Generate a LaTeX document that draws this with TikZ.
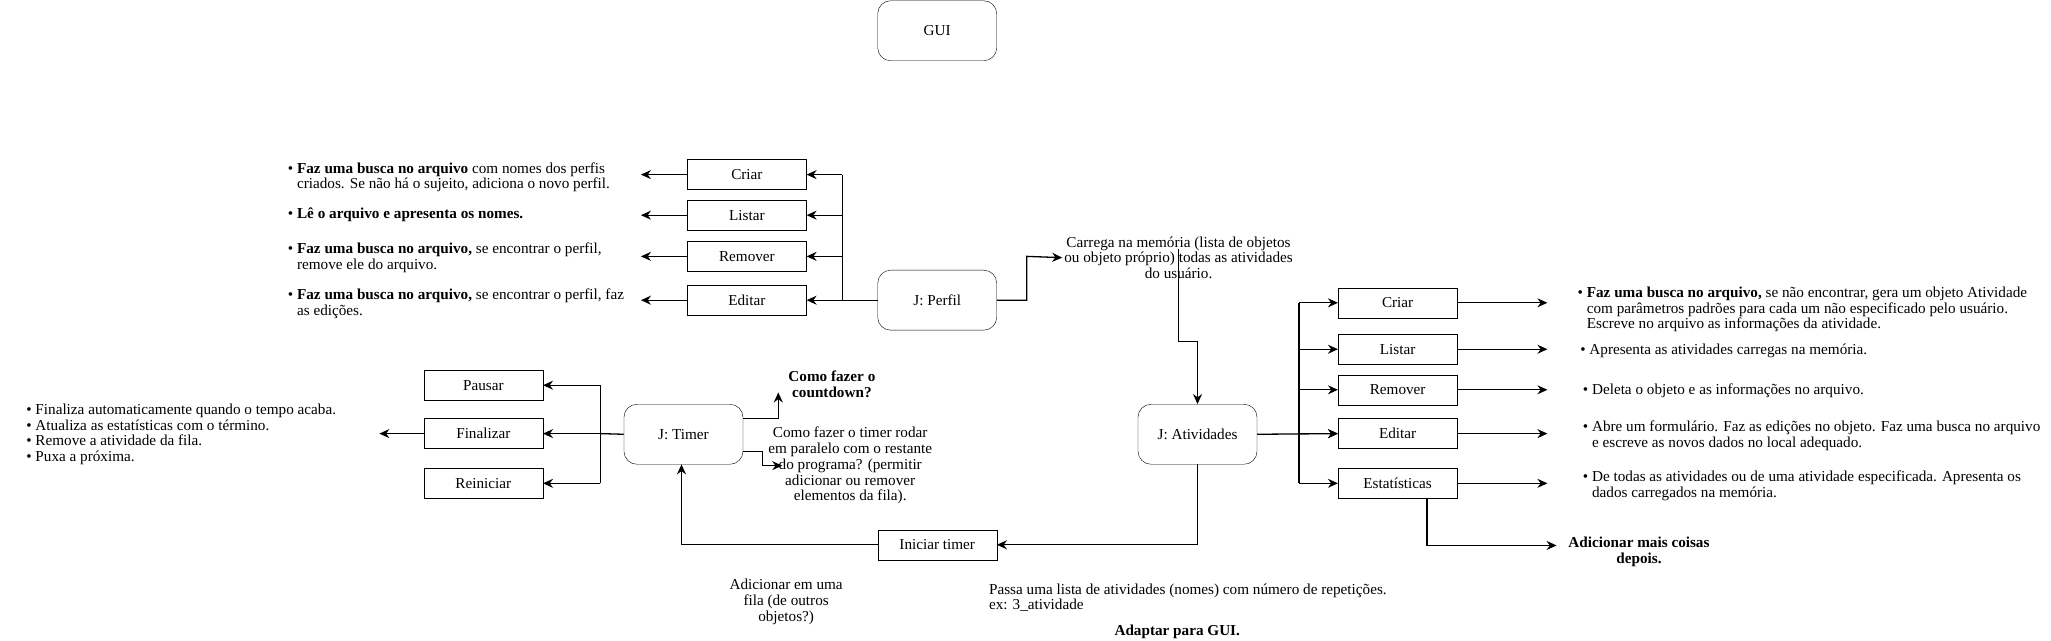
\documentclass[tikz,border=0pt]{standalone}
\usepackage{fontspec}
\setmainfont{Liberation Serif}
\usetikzlibrary{arrows.meta}
\begin{document}
\begin{tikzpicture}[x=1.308pt,y=-1.308pt,
  every node/.style={font=\fontsize{15.2}{15.7}\selectfont},
  box/.style={draw, minimum width=119pt, minimum height=30pt, inner sep=0pt},
  job/.style={draw, rounded corners=13pt, minimum width=119pt, minimum height=60pt, inner sep=0pt},
  txt/.style={align=left, inner sep=0pt},
  arr/.style={-{Stealth[length=10pt,width=9pt]}, line width=1.3pt},
  ln/.style={line width=1.3pt}]
\useasboundingbox (0,0) rectangle (1568,490);
% GUI
\node[job] (gui) at (716.5,23.5) {GUI};
% Perfil
\node[job] (perfil) at (716.5,229.5) {J: Perfil};
\node[box] (pcriar) at (571,133.5) {Criar};
\node[box] (plistar) at (571,164.5) {Listar};
\node[box] (premover) at (571,196) {Remover};
\node[box] (peditar) at (571,229.5) {Editar};
\coordinate (pv) at (644,229.5);
\draw[ln] (perfil.west) -- (pv);
\foreach \b in {pcriar,plistar,premover,peditar}
  \draw[arr] (pv |- \b) -- (\b.east);
\draw[ln] (pv) -- (pv |- pcriar);
\node[txt, anchor=west] (tpc) at (220,135.5) {\textbullet\ \textbf{Faz uma busca no arquivo} com nomes dos perfis\\\phantom{\textbullet\ }criados. Se não há o sujeito, adiciona o novo perfil.};
\node[txt, anchor=west] (tpl) at (220,164.5) {\textbullet\ \textbf{Lê o arquivo e apresenta os nomes.}};
\node[txt, anchor=west] (tpr) at (220,197) {\textbullet\ \textbf{Faz uma busca no arquivo,} se encontrar o perfil,\\\phantom{\textbullet\ }remove ele do arquivo.};
\node[txt, anchor=west] (tpe) at (220,232) {\textbullet\ \textbf{Faz uma busca no arquivo,} se encontrar o perfil, faz\\\phantom{\textbullet\ }as edições.};
\coordinate (pa1) at (490,133.5);
\coordinate (pa2) at (490,164.5);
\coordinate (pa3) at (490,196);
\coordinate (pa4) at (490,229.5);
\draw[arr] (pcriar.west) -- (pa1);
\draw[arr] (plistar.west) -- (pa2);
\draw[arr] (premover.west) -- (pa3);
\draw[arr] (peditar.west) -- (pa4);
% Carrega
\node[align=center, inner sep=2pt] (carrega) at (901,197) {Carrega na memória (lista de objetos\\ou objeto próprio) todas as atividades\\do usuário.};
\draw[arr] (perfil.east) -- (785,229.5) -- (785,196) -- (carrega.west);
% Atividades
\node[job] (ativ) at (915.5,332) {J: Atividades};
\draw[arr] (901,190) -- (901,261) -- (915.5,261) -- (ativ.north);
\node[box] (acriar) at (1068.5,231.5) {Criar};
\node[box] (alistar) at (1068.5,267) {Listar};
\node[box] (aremover) at (1068.5,298) {Remover};
\node[box] (aeditar) at (1068.5,331.5) {Editar};
\node[box] (aest) at (1068.5,369.5) {Estatísticas};
\coordinate (av) at (993,331.5);
\draw[ln] (av |- acriar) -- (av |- aest);
\foreach \b in {acriar,alistar,aremover,aeditar,aest}
  \draw[arr] (av |- \b) -- (\b.west);
\draw[arr] (ativ.east) -- (aeditar.west);
\node[txt, anchor=west] (tac) at (1206,236.5) {\textbullet\ \textbf{Faz uma busca no arquivo,} se não encontrar, gera um objeto Atividade\\\phantom{\textbullet\ }com parâmetros padrões para cada um não especificado pelo usuário.\\\phantom{\textbullet\ }Escreve no arquivo as informações da atividade.};
\node[txt, anchor=west] (tal) at (1208,268) {\textbullet\ Apresenta as atividades carregas na memória.};
\node[txt, anchor=west] (tar) at (1210,298.5) {\textbullet\ Deleta o objeto e as informações no arquivo.};
\node[txt, anchor=west] (tae) at (1210,333) {\textbullet\ Abre um formulário. Faz as edições no objeto. Faz uma busca no arquivo\\\phantom{\textbullet\ }e escreve as novos dados no local adequado.};
\node[txt, anchor=west] (tas) at (1210,371.5) {\textbullet\ De todas as atividades ou de uma atividade especificada. Apresenta os\\\phantom{\textbullet\ }dados carregados na memória.};
\draw[arr] (acriar.east) -- (1183,231.5);
\draw[arr] (alistar.east) -- (1183,267);
\draw[arr] (aremover.east) -- (1183,298);
\draw[arr] (aeditar.east) -- (1183,331.5);
\draw[arr] (aest.east) -- (1183,369.5);
\node[align=center, inner sep=0pt, font=\fontsize{15.2}{15.7}\selectfont\bfseries] (mais) at (1253,422) {Adicionar mais coisas\\depois.};
\draw[arr] (1091,381) -- (1091,417) -- (1190,417);
% Iniciar timer
\node[box] (init) at (716.5,416.5) {Iniciar timer};
\draw[arr] (ativ.south) -- (915.5,416.5) -- (init.east);
% Timer
\node[job] (timer) at (522.5,332) {J: Timer};
\draw[arr] (init.west) -- (521,416.5) -- (521,355);
\node[box] (pausar) at (369.5,294.5) {Pausar};
\node[box] (final) at (369.5,331.5) {Finalizar};
\node[box] (rein) at (369.5,369.5) {Reiniciar};
\coordinate (tv) at (459,331.5);
\draw[ln] (tv |- pausar) -- (tv |- rein);
\foreach \b in {pausar,final,rein}
  \draw[arr] (tv |- \b) -- (\b.east);
\draw[ln] (timer.west) -- (tv);
\node[txt, anchor=west] (tfin) at (20,332) {\textbullet\ Finaliza automaticamente quando o tempo acaba.\\\textbullet\ Atualiza as estatísticas com o término.\\\textbullet\ Remove a atividade da fila.\\\textbullet\ Puxa a próxima.};
\coordinate (tfa) at (290,331.5);
\draw[arr] (final.west) -- (tfa);
\node[align=center, inner sep=0pt, font=\fontsize{15.2}{15.7}\selectfont\bfseries] (cd) at (636,294) {Como fazer o\\countdown?};
\draw[arr] (568,320) -- (595,320) -- (595,300);
\node[align=center, inner sep=0pt] (par) at (650,356) {Como fazer o timer rodar\\em paralelo com o restante\\do programa? (permitir\\adicionar ou remover\\elementos da fila).};
\draw[arr] (568,345) -- (583,345) -- (583,356) -- (598,356);
% bottom notes
\node[align=center, inner sep=0pt] (fila) at (601,460) {Adicionar em uma\\fila (de outros\\objetos?)};
\node[txt, anchor=west] (passa) at (756,457) {Passa uma lista de atividades (nomes) com número de repetições.\\ex: 3\_atividade};
\node[inner sep=0pt, font=\fontsize{15.2}{15.7}\selectfont\bfseries] (adapt) at (900,483) {Adaptar para GUI.};
\end{tikzpicture}
\end{document}
